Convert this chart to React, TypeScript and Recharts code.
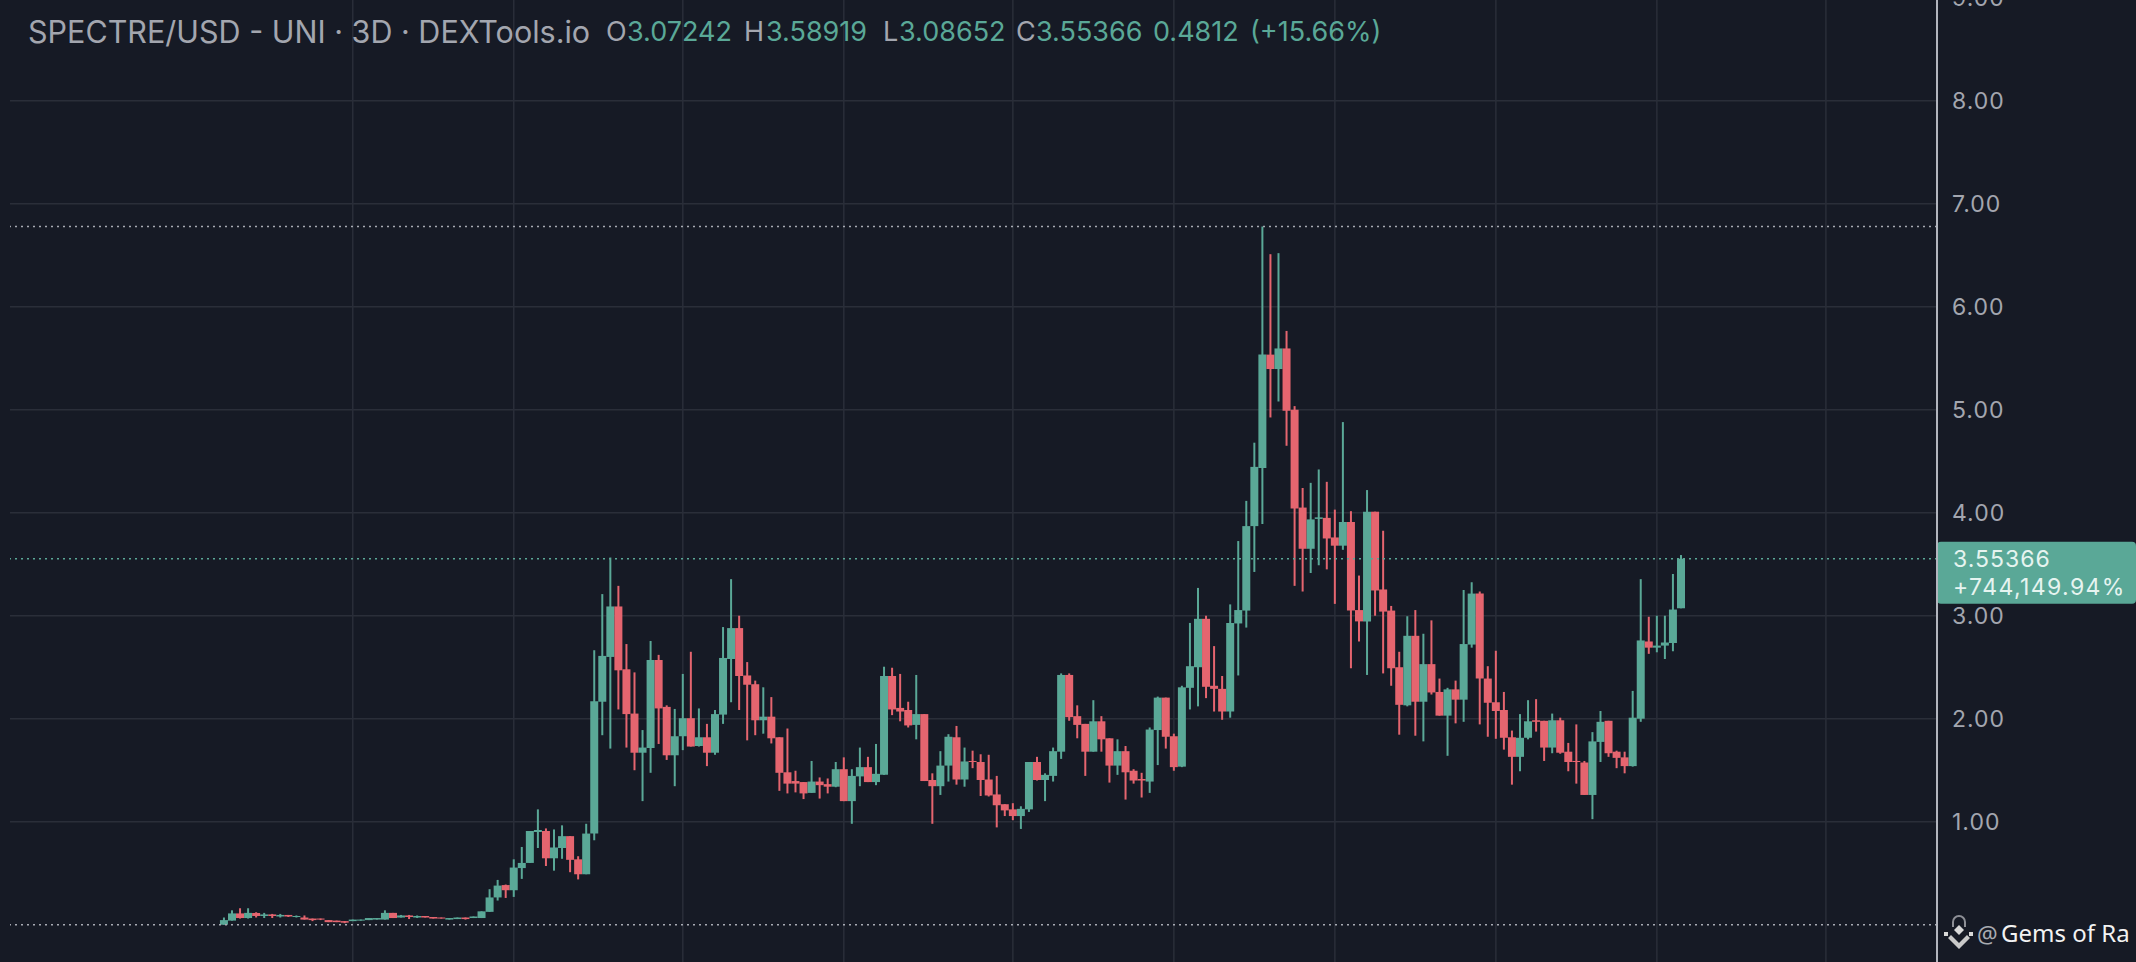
import { Bar, CartesianGrid, Cell, ComposedChart, ReferenceLine, XAxis, YAxis } from "recharts";

const opens = [
  0.0, 0.04, 0.11, 0.065, 0.115, 0.085, 0.1, 0.08, 0.095, 0.075,
  0.07, 0.06, 0.06, 0.045, 0.04, 0.035, 0.035, 0.04, 0.045, 0.05,
  0.05, 0.115, 0.07, 0.09, 0.07, 0.085, 0.075, 0.07, 0.05, 0.055,
  0.07, 0.065, 0.065, 0.125, 0.265, 0.385, 0.335, 0.55, 0.6, 0.9,
  0.91, 0.645, 0.745, 0.86, 0.635, 0.49, 0.885, 2.165, 2.6, 3.09,
  2.48, 2.05, 1.67, 1.715, 2.57, 2.115, 1.645, 1.83, 2.005, 1.735,
  1.82, 1.67, 2.04, 2.58, 2.88, 2.42, 2.335, 1.985, 2.02, 1.82,
  1.48, 1.395, 1.385, 1.28, 1.39, 1.365, 1.34, 1.51, 1.2, 1.44,
  1.53, 1.385, 1.455, 2.415, 2.105, 2.085, 1.94, 2.045, 1.405, 1.345,
  1.545, 1.82, 1.41, 1.59, 1.58, 1.41, 1.265, 1.17, 1.12, 1.055,
  1.12, 1.58, 1.405, 1.445, 1.68, 2.425, 2.025, 1.95, 1.68, 1.975,
  1.81, 1.545, 1.685, 1.495, 1.415, 1.39, 1.89, 2.205, 1.83, 1.535,
  2.3, 2.5, 2.97, 2.32, 2.29, 2.07, 2.925, 3.05, 3.87, 4.435,
  5.535, 5.395, 5.595, 5.0, 4.05, 3.65, 3.94, 3.95, 3.76, 3.68,
  3.91, 3.055, 2.945, 4.01, 3.255, 3.05, 2.5, 2.13, 2.805, 2.165,
  2.53, 2.26, 2.03, 2.285, 2.185, 2.72, 3.215, 2.39, 2.16, 2.085,
  1.82, 1.63, 1.815, 1.985, 1.98, 1.72, 1.985, 1.68, 1.59, 1.575,
  1.26, 1.775, 1.98, 1.68, 1.625, 1.54, 2.0, 2.75, 2.69, 2.71,
  2.735, 3.07242,
];

const closes = [
  0.045, 0.11, 0.065, 0.115, 0.085, 0.1, 0.085, 0.095, 0.08, 0.085,
  0.05, 0.045, 0.05, 0.025, 0.025, 0.02, 0.05, 0.05, 0.065, 0.065,
  0.115, 0.065, 0.09, 0.075, 0.085, 0.07, 0.06, 0.06, 0.065, 0.07,
  0.055, 0.08, 0.13, 0.265, 0.38, 0.335, 0.555, 0.6, 0.91, 0.92,
  0.645, 0.75, 0.86, 0.63, 0.49, 0.885, 2.17, 2.61, 3.09, 2.47,
  2.045, 1.67, 1.72, 2.57, 2.1, 1.645, 1.83, 2.005, 1.73, 1.82,
  1.67, 2.045, 2.59, 2.88, 2.415, 2.33, 1.985, 2.02, 1.81, 1.475,
  1.37, 1.37, 1.275, 1.39, 1.355, 1.34, 1.51, 1.2, 1.445, 1.53,
  1.385, 1.465, 2.415, 2.09, 2.07, 1.935, 2.045, 1.395, 1.345, 1.545,
  1.825, 1.41, 1.585, 1.58, 1.405, 1.255, 1.16, 1.11, 1.055, 1.125,
  1.58, 1.405, 1.455, 1.685, 2.425, 2.015, 1.94, 1.68, 1.975, 1.8,
  1.545, 1.685, 1.48, 1.4, 1.4, 1.895, 2.205, 1.825, 1.53, 2.305,
  2.51, 2.97, 2.31, 2.29, 2.07, 2.93, 3.055, 3.87, 4.445, 5.535,
  5.395, 5.595, 4.99, 4.04, 3.65, 3.935, 3.955, 3.75, 3.68, 3.91,
  3.05, 2.945, 4.01, 3.245, 3.04, 2.49, 2.135, 2.805, 2.165, 2.53,
  2.255, 2.03, 2.285, 2.185, 2.725, 3.215, 2.39, 2.155, 2.075, 1.815,
  1.63, 1.815, 1.975, 1.97, 1.72, 1.985, 1.67, 1.58, 1.58, 1.26,
  1.78, 1.97, 1.665, 1.62, 1.54, 2.01, 2.76, 2.69, 2.71, 2.74,
  3.06, 3.55366,
];

const highs = [
  0.07, 0.14, 0.16, 0.16, 0.12, 0.115, 0.105, 0.105, 0.095, 0.09,
  0.09, 0.06, 0.06, 0.045, 0.04, 0.035, 0.05, 0.05, 0.065, 0.065,
  0.14, 0.115, 0.095, 0.095, 0.09, 0.085, 0.075, 0.07, 0.065, 0.07,
  0.07, 0.08, 0.13, 0.345, 0.435, 0.39, 0.635, 0.755, 0.91, 1.12,
  0.935, 0.925, 0.965, 0.86, 0.665, 0.98, 2.665, 3.21, 3.565, 3.29,
  2.725, 2.45, 1.89, 2.755, 2.62, 2.13, 2.095, 2.435, 2.65, 2.1,
  1.95, 2.085, 2.89, 3.355, 3.0, 2.55, 2.37, 2.305, 2.21, 1.82,
  1.905, 1.495, 1.385, 1.59, 1.43, 1.42, 1.58, 1.625, 1.51, 1.72,
  1.63, 1.755, 2.505, 2.495, 2.435, 2.165, 2.425, 2.045, 1.47, 1.685,
  1.85, 1.93, 1.72, 1.69, 1.655, 1.65, 1.445, 1.17, 1.18, 1.15,
  1.58, 1.63, 1.47, 1.72, 2.44, 2.44, 2.13, 1.95, 2.18, 2.025,
  1.81, 1.8, 1.735, 1.51, 1.475, 1.915, 2.215, 2.205, 1.855, 2.32,
  2.93, 3.27, 3.0, 2.705, 2.415, 3.11, 3.725, 4.115, 4.68, 6.78,
  6.51, 6.52, 5.765, 5.035, 4.24, 4.29, 4.42, 4.3, 4.03, 4.88,
  4.015, 3.39, 4.22, 4.01, 3.825, 3.095, 2.65, 2.995, 3.055, 2.825,
  2.955, 2.39, 2.3, 2.37, 3.25, 3.325, 3.235, 2.51, 2.66, 2.26,
  1.885, 2.045, 2.18, 2.19, 1.98, 2.05, 2.01, 1.765, 1.945, 1.59,
  1.87, 2.075, 1.98, 1.69, 1.68, 2.27, 3.355, 2.99, 3.0, 3.0,
  3.405, 3.58919,
];

const lows = [
  0.0, 0.04, 0.06, 0.06, 0.07, 0.065, 0.065, 0.07, 0.075, 0.07,
  0.05, 0.035, 0.045, 0.025, 0.025, 0.015, 0.035, 0.04, 0.045, 0.05,
  0.05, 0.065, 0.07, 0.055, 0.065, 0.07, 0.06, 0.06, 0.05, 0.055,
  0.05, 0.065, 0.065, 0.125, 0.235, 0.26, 0.27, 0.445, 0.6, 0.745,
  0.57, 0.525, 0.64, 0.51, 0.44, 0.49, 0.82, 1.84, 1.71, 2.09,
  1.72, 1.5, 1.2, 1.475, 1.755, 1.6, 1.345, 1.695, 1.73, 1.73,
  1.54, 1.65, 1.95, 2.16, 2.085, 1.79, 1.84, 1.855, 1.76, 1.3,
  1.275, 1.285, 1.22, 1.28, 1.225, 1.275, 1.335, 1.2, 0.98, 1.345,
  1.385, 1.355, 1.455, 2.035, 1.975, 1.915, 1.8, 1.395, 0.98, 1.26,
  1.39, 1.36, 1.34, 1.52, 1.25, 1.245, 0.945, 1.055, 1.015, 0.93,
  1.095, 1.4, 1.2, 1.39, 1.61, 1.98, 1.81, 1.445, 1.68, 1.68,
  1.38, 1.455, 1.215, 1.37, 1.235, 1.28, 1.55, 1.71, 1.495, 1.53,
  2.09, 2.12, 2.2, 2.07, 1.99, 2.01, 2.42, 2.885, 3.425, 3.89,
  4.925, 5.08, 4.65, 3.29, 3.235, 3.415, 3.49, 3.45, 3.115, 3.64,
  2.49, 2.75, 2.425, 3.0, 2.44, 2.32, 1.845, 2.12, 1.835, 1.78,
  2.235, 2.03, 1.64, 1.955, 1.97, 2.69, 1.945, 1.825, 1.805, 1.7,
  1.36, 1.49, 1.8, 1.875, 1.59, 1.665, 1.66, 1.49, 1.37, 1.26,
  1.025, 1.58, 1.63, 1.52, 1.47, 1.535, 1.97, 2.63, 2.645, 2.58,
  2.655, 3.07242,
];

const priceTicks = [1, 2, 3, 4, 5, 6, 7, 8, 9];
const timeTicks = [16, 36, 57, 77, 98, 118, 138, 158, 178, 199];

const seriesHigh = 6.78;
const seriesLow = 0;
const lastPrice = 3.55366;
const lastPriceLabel = "3.55366";
const lastChangeLabel = "+744,149.94%";

const legendTitle = "SPECTRE/USD - UNI · 3D · DEXTools.io";
const legendValues = [
  { label: "O", value: "3.07242", labelLeft: 606, valueLeft: 627 },
  { label: "H", value: "3.58919", labelLeft: 744, valueLeft: 766 },
  { label: "L", value: "3.08652", labelLeft: 883, valueLeft: 899 },
  { label: "C", value: "3.55366", labelLeft: 1016, valueLeft: 1036 },
  { label: "", value: "0.4812", labelLeft: 0, valueLeft: 1153 },
  { label: "", value: "(+15.66%)", labelLeft: 0, valueLeft: 1250 },
];

const data = opens.map((open, i) => ({
  index: i,
  wick: [lows[i], highs[i]],
  body: [Math.min(open, closes[i]), Math.max(open, closes[i])],
  up: closes[i] >= open,
}));

const bg = "#161a25";
const green = "#5aa897";
const red = "#e5656f";
const grid = "#2a2e39";
const muted = "#a3a6af";
const xDomain = [-26.58, 212.8];
const yDomain = [-0.556, 9.172];

function PriceTag({ viewBox }: any) {
  const left = viewBox.x + viewBox.width;
  const y = viewBox.y;
  return (
    <g>
      <rect x={left} y={y - 17} width={199} height={62} rx={4} fill={green} />
      <text x={left + 16} y={y + 8} fontSize={23} fill="#e6f4f0" letterSpacing={1} fontFamily="Inter">
        {lastPriceLabel}
      </text>
      <text x={left + 16} y={y + 36} fontSize={23} fill="#e6f4f0" letterSpacing={1.4} fontFamily="Inter">
        {lastChangeLabel}
      </text>
    </g>
  );
}

function Watermark() {
  return (
    <div style={{ position: "absolute", left: 1944, top: 913, width: 192, height: 44, color: "#f2f2f2" }}>
      <svg width={30} height={40} style={{ position: "absolute", left: 0, top: 0 }}>
        <path d="M9 14 V9 a6 6 0 0 1 12 0 V14" fill="none" stroke="#8d8f96" strokeWidth={2} />
        <path d="M15 12 L20 17 L15 22 L10 17 Z" fill="#d8d8d8" />
        <path d="M7 19 L15 27 L23 19 L26 22 L15 33 L4 22 Z" fill="#c9c9c9" transform="translate(0 3)" />
        <rect x={0} y={19} width={4} height={4} fill="#d8d8d8" />
        <rect x={25} y={19} width={4} height={4} fill="#d8d8d8" />
      </svg>
      <span style={{ position: "absolute", left: 33, top: 5, fontFamily: "'Noto Sans'", fontSize: 23, color: "#a9abb1" }}>@</span>
      <span style={{ position: "absolute", left: 57, top: 3, fontFamily: "'Noto Sans'", fontSize: 24, whiteSpace: "nowrap" }}>
        Gems of Ra
      </span>
    </div>
  );
}

// the date labels are outside the crop, but the grid still needs the axis ticks
const NoTick = () => <g />;

export default function App() {
  return (
    <div style={{ position: "fixed", left: 0, top: 0, width: 2136, height: 962, overflow: "hidden", background: bg }}>
      <div style={{ position: "absolute", left: 0, top: -20 }}>
        <ComposedChart
          width={2136}
          height={1002}
          data={data}
          margin={{ top: 0, right: 0, bottom: 0, left: 10 }}
        >
          <CartesianGrid stroke={grid} strokeWidth={1.5} xAxisId="body" yAxisId="price" syncWithTicks />
          <XAxis
            xAxisId="body"
            dataKey="index"
            type="number"
            domain={xDomain}
            ticks={timeTicks}
            interval={0}
            allowDataOverflow
            tick={NoTick}
            tickLine={false}
            axisLine={false}
            height={0}
          />
          <XAxis xAxisId="wick" dataKey="index" type="number" domain={xDomain} allowDataOverflow hide />
          <YAxis
            yAxisId="price"
            orientation="right"
            domain={yDomain}
            allowDataOverflow
            ticks={priceTicks}
            interval={0}
            width={199}
            tickFormatter={(v: number) => v.toFixed(2)}
            tick={{ fill: muted, fontSize: 23, fontFamily: "Inter", textAnchor: "start", letterSpacing: 1 }}
            tickLine={false}
            tickSize={0}
            tickMargin={15}
            axisLine={{ stroke: "#b2b5be", strokeWidth: 2 }}
          />
          <Bar xAxisId="wick" yAxisId="price" dataKey="wick" barSize={2} isAnimationActive={false}>
            {data.map((d) => (
              <Cell key={d.index} fill={d.up ? green : red} />
            ))}
          </Bar>
          <Bar xAxisId="body" yAxisId="price" dataKey="body" barSize={8} isAnimationActive={false}>
            {data.map((d) => (
              <Cell key={d.index} fill={d.up ? green : red} />
            ))}
          </Bar>
          <ReferenceLine xAxisId="body" yAxisId="price" y={seriesHigh} stroke="#a7aab3" strokeWidth={1.5} strokeDasharray="2 4" />
          <ReferenceLine xAxisId="body" yAxisId="price" y={seriesLow} stroke="#a7aab3" strokeWidth={1.5} strokeDasharray="2 4" />
          <ReferenceLine
            xAxisId="body"
            yAxisId="price"
            y={lastPrice}
            stroke={green}
            strokeWidth={1.5}
            strokeDasharray="2 4"
            label={<PriceTag />}
          />
        </ComposedChart>
      </div>

      <div style={{ position: "absolute", left: 28, top: 13, fontFamily: "Inter", fontSize: 30.5, color: muted, whiteSpace: "nowrap" }}>
        {legendTitle}
      </div>
      {legendValues.map((item) => (
        <div key={item.value} style={{ fontFamily: "Inter", fontSize: 27 }}>
          {item.label && (
            <span style={{ position: "absolute", left: item.labelLeft, top: 15, color: muted }}>{item.label}</span>
          )}
          <span style={{ position: "absolute", left: item.valueLeft, top: 15, color: green, whiteSpace: "nowrap" }}>
            {item.value}
          </span>
        </div>
      ))}
      <Watermark />
    </div>
  );
}
